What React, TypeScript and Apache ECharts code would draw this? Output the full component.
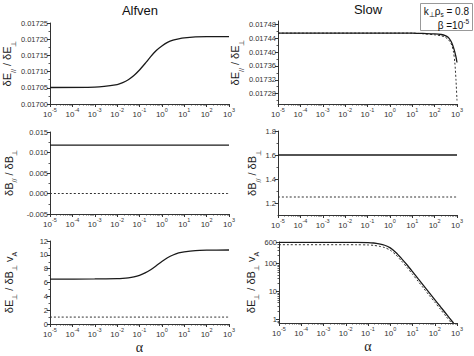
import React, { useEffect, useRef } from 'react';
import * as echarts from 'echarts';

// ---------- data ----------
const xMajorTicks = [1e-5, 1e-4, 1e-3, 1e-2, 1e-1, 1, 10, 100, 1000];
const xMinorTicks: number[] = [];
for (let d = -5; d < 3; d++) for (let k = 2; k <= 9; k++) xMinorTicks.push(+(k * Math.pow(10, d)).toPrecision(3));

// Alfven panels
const alfvenAlpha = [1e-5, 1e-3, 0.01, 0.0178, 0.0316, 0.0562, 0.1, 0.178, 0.316, 0.562, 1, 1.78, 3.16, 5.62, 10, 31.6, 100, 1000];
const alfvenEparEperp = [0.017051, 0.017052, 0.01706, 0.017066, 0.017075, 0.017088, 0.017105, 0.017125, 0.017146, 0.017165, 0.017179, 0.01719, 0.017197, 0.017201, 0.017204, 0.017207, 0.017208, 0.017208];
const alfvenEperpBperp = [6.5, 6.51, 6.56, 6.6, 6.68, 6.82, 7.04, 7.38, 7.85, 8.43, 9.03, 9.57, 9.98, 10.27, 10.44, 10.62, 10.67, 10.7];
const flatAlpha = [1e-5, 1000];
const alfvenBparSolid = [0.0118, 0.0118];
const alfvenBparDashed = [0, 0];
const alfvenEperpDashed = [1, 1];

// Slow panels
const slowTopAlpha = [1e-5, 1, 10, 30, 100, 200, 300, 400, 500, 600, 700, 800, 900, 1000];
const slowEparSolid = [0.017455, 0.017455, 0.017455, 0.017454, 0.017453, 0.017451, 0.017448, 0.017443, 0.017435, 0.017425, 0.017413, 0.0174, 0.017386, 0.01737];
const slowEparDashed = [0.017455, 0.017455, 0.017455, 0.017453, 0.01745, 0.017447, 0.017443, 0.017437, 0.017429, 0.017418, 0.0174, 0.01737, 0.01732, 0.01726];
const slowBparSolid = [1.6, 1.6];
const slowBparDashed = [1.25, 1.25];
const slowSolidAlpha = [1e-5, 0.01, 0.0316, 0.1, 0.178, 0.316, 0.562, 1, 1.78, 3.16, 5.62, 10, 17.8, 31.6, 56.2, 100, 178, 316, 562, 700];
const slowEperpSolid = [580, 580, 578, 570, 553, 514, 459, 370, 254, 156, 92, 52, 29, 16.4, 9.2, 5.2, 2.92, 1.64, 0.92, 0.75];
const slowDashedAlpha = [1e-5, 0.01, 0.0316, 0.1, 0.178, 0.316, 0.562, 1, 1.78, 3.16, 5.62, 10, 17.8, 31.6, 56.2, 100, 178, 316, 562];
const slowEperpDashed = [480, 480, 478, 470, 455, 423, 378, 305, 208, 127, 74, 42, 23.5, 13.2, 7.4, 4.2, 2.35, 1.32, 0.75];

// y tick labels
const tlTicks = [0.017, 0.01705, 0.0171, 0.01715, 0.0172, 0.01725];
const tlMinor = [0.017025, 0.017075, 0.017125, 0.017175, 0.017225];
const trTicks = [0.01728, 0.01732, 0.01736, 0.0174, 0.01744, 0.01748];
const trMinor = [0.01726, 0.0173, 0.01734, 0.01738, 0.01742, 0.01746];
const mlTicks = [-0.005, 0, 0.005, 0.01, 0.015];
const mlMinor = [-0.0025, 0.0025, 0.0075, 0.0125];
const mrTicks = [1.2, 1.4, 1.6, 1.8];
const mrMinor = [1.3, 1.5, 1.7];
const blTicks = [0, 2, 4, 6, 8, 10, 12];
const blMinor = [1, 3, 5, 7, 9, 11];
const brTicks = [1, 10, 100, 600];
const brMinor = [0.8, 0.9, 2, 3, 4, 5, 6, 7, 8, 9, 20, 30, 40, 50, 60, 70, 80, 90, 200, 300, 400, 500];

// ---------- style ----------
const FONT = '"Liberation Sans", Arial, sans-serif';
const AX = '#333';
const SOLID = '#1a1a1a';
const DASH = '#333';

const nameEpar = '{m|δE}{s|//}{m| / δE}{s|⊥}';
const nameBpar = '{m|δB}{s|//}{m| / δB}{s|⊥}';
const nameEperp = '{m|δE}{s|⊥}{m| / δB}{s|⊥}{m| v}{s|A}';

const grids = [
  { left: 50, top: 23, width: 179, height: 81 },
  { left: 278, top: 21, width: 179, height: 83 },
  { left: 50, top: 132, width: 179, height: 82 },
  { left: 278, top: 131, width: 179, height: 84 },
  { left: 50, top: 241, width: 179, height: 83 },
  { left: 279, top: 242, width: 178, height: 81 },
];

type YCfg = { type: 'value' | 'log'; min: number; max: number; major: number[]; minor: number[]; dec: number; name: string; gap: number };
const yCfgs: YCfg[] = [
  { type: 'value', min: 0.017, max: 0.01725, major: tlTicks, minor: tlMinor, dec: 5, name: nameEpar, gap: 32 },
  { type: 'value', min: 0.01725, max: 0.01749, major: trTicks, minor: trMinor, dec: 5, name: nameEpar, gap: 25 },
  { type: 'value', min: -0.005, max: 0.015, major: mlTicks, minor: mlMinor, dec: 3, name: nameBpar, gap: 32 },
  { type: 'value', min: 1.1, max: 1.8, major: mrTicks, minor: mrMinor, dec: 1, name: nameBpar, gap: 16 },
  { type: 'value', min: 0, max: 12, major: blTicks, minor: blMinor, dec: 0, name: nameEperp, gap: 32 },
  { type: 'log', min: 0.75, max: 600, major: brTicks, minor: brMinor, dec: 0, name: nameEperp, gap: 19 },
];

function pts(xs: number[], ys: number[]) {
  return xs.map((x, i) => [x, ys[i]]);
}

function buildOption() {
  const grid: any[] = [];
  const xAxis: any[] = [];
  const yAxis: any[] = [];
  grids.forEach((g) => grid.push({ ...g, containLabel: false, outerBoundsMode: 'none' }));
  grids.forEach((g) => grid.push({ ...g, containLabel: false, outerBoundsMode: 'none' }));

  grids.forEach((_, i) => {
    const bottomRow = i >= 4;
    xAxis.push({
      type: 'log', logBase: 10, gridIndex: i, min: 1e-5, max: 1000,
      axisLine: { show: true, onZero: false, lineStyle: { color: AX, width: 1 } },
      axisTick: { show: true, length: 3, customValues: xMajorTicks, lineStyle: { color: AX, width: 1 } },
      axisLabel: {
        customValues: xMajorTicks, margin: 3, color: AX,
        formatter: (v: number) => `{b|10}{s|${Math.round(Math.log10(v))}}`,
        rich: {
          b: { fontSize: 8, fontFamily: FONT, color: AX, lineHeight: 11, verticalAlign: 'bottom' },
          s: { fontSize: 5.5, fontFamily: FONT, color: AX, lineHeight: 6, verticalAlign: 'top' },
        },
      },
      splitLine: { show: false },
      minorTick: { show: false },
      name: bottomRow ? 'α' : '',
      nameLocation: 'middle', nameGap: 16,
      nameTextStyle: { fontFamily: '"Liberation Serif", "DejaVu Serif", serif', fontSize: 14, lineHeight: 14, color: '#222' },
    });
    const c = yCfgs[i];
    yAxis.push({
      type: c.type, gridIndex: i, min: c.min, max: c.max, ...(c.type === 'log' ? { logBase: 10 } : {}),
      axisLine: { show: true, onZero: false, lineStyle: { color: AX, width: 1 } },
      axisTick: { show: true, length: 3, customValues: c.major, lineStyle: { color: AX, width: 1 } },
      axisLabel: {
        customValues: c.major, margin: 2, color: AX, fontSize: 7.5, fontFamily: FONT,
        formatter: (v: number) => (c.type === 'log' ? String(Math.round(v)) : Number(v).toFixed(c.dec)),
      },
      splitLine: { show: false },
      name: c.name, nameLocation: 'middle', nameRotate: 90, nameGap: c.gap,
      nameTextStyle: {
        rich: {
          m: { fontSize: 11, fontFamily: FONT, color: '#222', lineHeight: 15, verticalAlign: 'top' },
          s: { fontSize: 7, fontFamily: FONT, color: '#222', lineHeight: 7, verticalAlign: 'bottom' },
        },
      },
    });
  });
  grids.forEach((_, i) => {
    const c = yCfgs[i];
    xAxis.push({
      type: 'log', logBase: 10, gridIndex: i + 6, min: 1e-5, max: 1000, position: 'bottom',
      axisLine: { show: false, onZero: false },
      axisTick: { show: true, length: 1.5, customValues: xMinorTicks, lineStyle: { color: AX, width: 0.8 } },
      axisLabel: { show: false },
      splitLine: { show: false },
    });
    yAxis.push({
      type: c.type, gridIndex: i + 6, min: c.min, max: c.max, position: 'left', ...(c.type === 'log' ? { logBase: 10 } : {}),
      axisLine: { show: false, onZero: false },
      axisTick: { show: true, length: 1.5, customValues: c.minor, lineStyle: { color: AX, width: 0.8 } },
      axisLabel: { show: false },
      splitLine: { show: false },
    });
  });

  const solid = (idx: number, data: number[][]) => ({
    type: 'line', xAxisIndex: idx, yAxisIndex: idx, data, symbol: 'none', smooth: 0.25,
    lineStyle: { color: SOLID, width: 1.3 }, silent: true,
  });
  const dashed = (idx: number, data: number[][]) => ({
    type: 'line', xAxisIndex: idx, yAxisIndex: idx, data, symbol: 'none', smooth: 0.25,
    lineStyle: { color: DASH, width: 1, type: [2, 2] }, silent: true,
  });

  const series = [
    solid(0, pts(alfvenAlpha, alfvenEparEperp)),
    dashed(1, pts(slowTopAlpha, slowEparDashed)),
    solid(1, pts(slowTopAlpha, slowEparSolid)),
    solid(2, pts(flatAlpha, alfvenBparSolid)),
    dashed(2, pts(flatAlpha, alfvenBparDashed)),
    solid(3, pts(flatAlpha, slowBparSolid)),
    dashed(3, pts(flatAlpha, slowBparDashed)),
    solid(4, pts(alfvenAlpha, alfvenEperpBperp)),
    dashed(4, pts(flatAlpha, alfvenEperpDashed)),
    dashed(5, pts(slowDashedAlpha, slowEperpDashed)),
    solid(5, pts(slowSolidAlpha, slowEperpSolid)),
  ];

  const graphic = [
    { type: 'text', x: 140, y: 10, style: { text: 'Alfven', font: `13px ${FONT}`, fill: '#111', align: 'center', verticalAlign: 'middle', textAlign: 'center', textVerticalAlign: 'middle' } },
    { type: 'text', x: 368, y: 9, style: { text: 'Slow', font: `13px ${FONT}`, fill: '#111', align: 'center', verticalAlign: 'middle', textAlign: 'center', textVerticalAlign: 'middle' } },
    { type: 'rect', shape: { x: 420.5, y: 3.5, width: 52, height: 27 }, style: { fill: '#fff', stroke: '#999', lineWidth: 1 } },
    {
      type: 'text', x: 469, y: 12,
      style: {
        text: '{m|k}{s|⊥}{m|ρ}{s|s}{m| = 0.8}', align: 'right', verticalAlign: 'middle', textAlign: 'right', textVerticalAlign: 'middle',
        rich: {
          m: { fontSize: 10, fontFamily: FONT, fill: '#111', color: '#111', lineHeight: 12, verticalAlign: 'top' },
          s: { fontSize: 6.5, fontFamily: FONT, fill: '#111', color: '#111', lineHeight: 6, verticalAlign: 'bottom' },
        },
      },
    },
    {
      type: 'text', x: 469, y: 24,
      style: {
        text: '{m|β =10}{p|-5}', align: 'right', verticalAlign: 'middle', textAlign: 'right', textVerticalAlign: 'middle',
        rich: {
          m: { fontSize: 10, fontFamily: FONT, fill: '#111', color: '#111', lineHeight: 12, verticalAlign: 'bottom' },
          p: { fontSize: 6.5, fontFamily: FONT, fill: '#111', color: '#111', lineHeight: 7, verticalAlign: 'top' },
        },
      },
    },
  ];

  return { animation: false, backgroundColor: '#fff', grid, xAxis, yAxis, series, graphic };
}

export default function App() {
  const ref = useRef<HTMLDivElement>(null);
  useEffect(() => {
    const chart = echarts.init(ref.current!, null, { renderer: 'svg' });
    chart.setOption(buildOption() as any);
    return () => chart.dispose();
  }, []);
  return <div ref={ref} style={{ position: 'fixed', left: 0, top: 0, width: 474, height: 356, background: '#fff' }} />;
}
